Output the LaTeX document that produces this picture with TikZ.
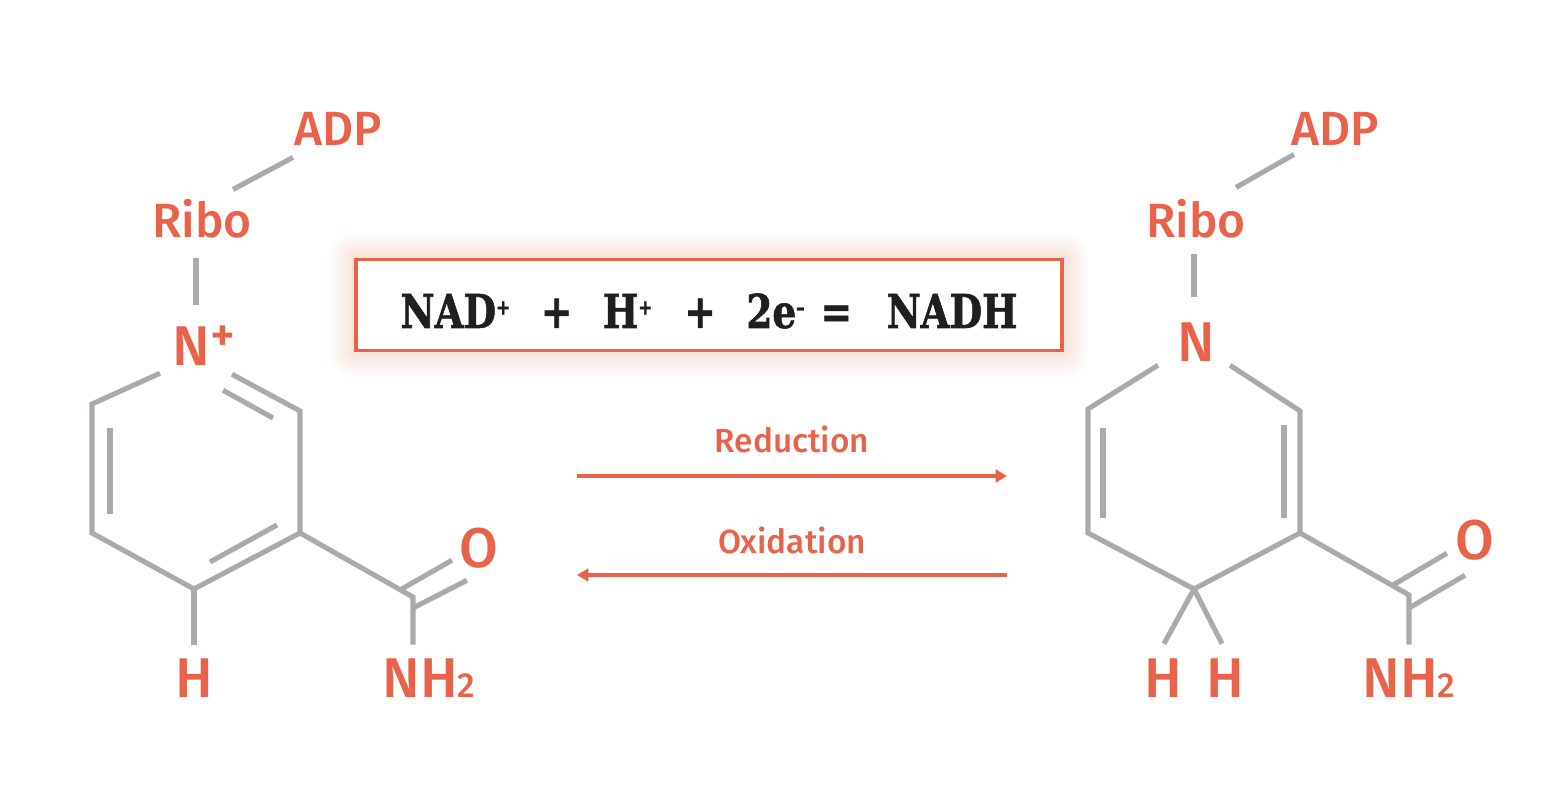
\documentclass[tikz,border=0pt]{standalone}
\usepackage{fontspec}
\setmainfont{Fira Sans}[UprightFont=* Medium]
\newfontfamily\eqfont{DejaVu Serif}[BoldFont={DejaVu Serif Bold},BoldFeatures={FakeBold=1.2},FakeStretch=0.8]
\usetikzlibrary{arrows.meta,backgrounds,calc}
\definecolor{orng}{HTML}{E8634A}
\definecolor{bondgray}{HTML}{A8AAAD}
\tikzstyle{bond} = [draw=bondgray, line width=3.8pt, line join=miter]
\tikzstyle{line} = [draw=orng, line width=3pt, -{Triangle[length=8.5pt,width=9.5pt]}]
\tikzstyle{atom} = [text=orng, inner sep=0pt, text height=25pt, text depth=0pt, font=\fontsize{36}{36}\selectfont]
\tikzstyle{atom_big} = [atom, text height=30pt, font=\fontsize{42}{42}\selectfont]
\tikzstyle{arrow_lbl} = [text=orng, inner sep=0pt, font=\fontsize{25}{25}\selectfont]
\tikzstyle{eq_box} = [draw=orng, fill=white, line width=2.4pt, minimum width=529.5pt, minimum height=68pt, inner sep=0pt, text=black!88, font=\eqfont\bfseries\fontsize{35}{35}\selectfont]
\newcommand{\lowtwo}{{\fontsize{26}{26}\selectfont 2}}
\newcommand{\highplus}{\raisebox{10.5pt}{\fontsize{36}{36}\selectfont +}}
\newcommand{\eqsup}[1]{\raisebox{10pt}{\fontsize{16}{16}\selectfont #1}}
\begin{document}
\begin{tikzpicture}[x=0.75pt,y=-0.75pt]
	\useasboundingbox (0,0) rectangle (1568,805);

	% equation
	\node [eq_box] (eq) at (709,305) {\raisebox{-17.25pt}[0pt][0pt]{NAD\eqsup{+}\hspace{23pt}+\hspace{23pt}H\eqsup{+}\hspace{24pt}+\hspace{23pt}2e\eqsup{\textendash}\hspace{12pt}=\hspace{26pt}NADH}};
	\begin{scope}[on background layer]
		\foreach \i in {1,...,16}
			\draw [orng!60!brown, opacity=0.012, line width=\i*2.4pt, line join=round] (eq.south west) rectangle (eq.north east);
	\end{scope}

	% left molecule
	\node [atom] (adp_l) at (338,129) {ADP};
	\node [atom] (ribo_l) at (202,221) {Ribo};
	\node [atom_big] (n_l) at (204,345.5) {N\highplus};
	\node [atom_big] (h_l) at (194,677) {H};
	\node [atom_big] (nh2_l) at (429,677) {NH\lowtwo};
	\node [atom_big] (o_l) at (479,547) {O};
	\coordinate (a1) at (92,404);
	\coordinate (a2) at (92,533);
	\coordinate (a3) at (194,589);
	\coordinate (a4) at (300,533);
	\coordinate (a5) at (300,411);
	\coordinate (ac) at (413,597);
	\path [bond] ([shift={(-105,43.5)}]adp_l.south) -- ([shift={(-45,11.5)}]adp_l.south);
	\path [bond] ([shift={(-6,20.5)}]ribo_l.south) -- ([shift={(-8,-20.5)}]n_l.north);
	\path [bond] ([shift={(-44,7.5)}]n_l.south) -- (a1) -- (a2) -- (a3) -- (a4) -- (a5) -- ([shift={(28,8.5)}]n_l.south);
	\path [bond] ([shift={(19,24.5)}]n_l.south) -- (273,418);
	\path [bond] (110,428) -- (110,514);
	\path [bond] (210,562) -- (277,525);
	\path [bond] (a3) -- ([shift={(0,-12)}]h_l.north);
	\path [bond] (a4) -- (ac) -- ([shift={(-16,-12)}]nh2_l.north);
	\path [bond] (400,590) -- ([shift={(-27,-7)}]o_l.south);
	\path [bond] (413,608) -- ([shift={(-12,13)}]o_l.south);

	% right molecule
	\node [atom] (adp_r) at (1335,129) {ADP};
	\node [atom] (ribo_r) at (1196,221) {Ribo};
	\node [atom_big] (n_r) at (1196,342) {N};
	\node [atom_big] (h1_r) at (1163,677) {H};
	\node [atom_big] (h2_r) at (1225,677) {H};
	\node [atom_big] (nh2_r) at (1409,677) {NH\lowtwo};
	\node [atom_big] (o_r) at (1475,540) {O};
	\coordinate (b1) at (1088,409);
	\coordinate (b2) at (1088,533);
	\coordinate (b3) at (1194,589);
	\coordinate (b4) at (1300,533);
	\coordinate (b5) at (1300,411);
	\coordinate (bc) at (1409,595);
	\path [bond] ([shift={(-99,41.5)}]adp_r.south) -- ([shift={(-41,8.5)}]adp_r.south);
	\path [bond] ([shift={(-2,16.5)}]ribo_r.south) -- ([shift={(-2,-25)}]n_r.north);
	\path [bond] ([shift={(-38,3)}]n_r.south) -- (b1) -- (b2) -- (b3) -- (b4) -- (b5) -- ([shift={(34,3)}]n_r.south);
	\path [bond] (1103,428) -- (1103,518);
	\path [bond] (1284,425) -- (1284,518);
	\path [bond] (b3) -- ([shift={(1,-13)}]h1_r.north);
	\path [bond] (b3) -- ([shift={(-3,-13)}]h2_r.north);
	\path [bond] (b4) -- (bc) -- ([shift={(0,-12)}]nh2_r.north);
	\path [bond] (1393,585) -- ([shift={(-28,-7)}]o_r.south);
	\path [bond] (1409,608) -- ([shift={(-10,15)}]o_r.south);

	% arrows
	\node [arrow_lbl] (red) at (792,439.5) {Reduction};
	\node [arrow_lbl] (oxi) at (792,540) {Oxidation};
	\coordinate (r_start) at (577,476);
	\coordinate (r_end) at (1007,476);
	\coordinate (o_start) at (1007,575);
	\coordinate (o_end) at (577,575);
	\path [line] (r_start) -- (r_end);
	\path [line] (o_start) -- (o_end);
\end{tikzpicture}
\end{document}
